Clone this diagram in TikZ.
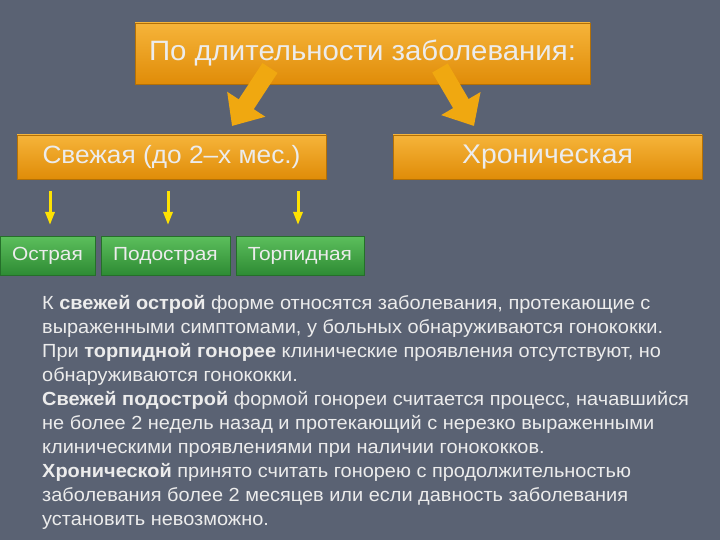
\documentclass[tikz,border=0pt]{standalone}
\usepackage{fontspec}
\setmainfont{Liberation Sans}
\newfontfamily\wide[FakeStretch=1.05]{Liberation Sans}
\newfontfamily\wider[FakeStretch=1.1]{Liberation Sans}
\usetikzlibrary{arrows.meta}
\definecolor{bg}{HTML}{5A6273}
\definecolor{txt}{HTML}{ECECEC}
\definecolor{orA}{HTML}{F6B43A}
\definecolor{orB}{HTML}{E08C08}
\definecolor{grA}{HTML}{5CBF5C}
\definecolor{grB}{HTML}{2E8B34}
\definecolor{arr}{HTML}{F0A810}
\tikzset{
 obox/.style={draw=orB!80!black,line width=0.6pt,top color=orA,bottom color=orB,inner sep=0pt,text=txt},
 gbox/.style={draw=grB!80!black,line width=0.6pt,top color=grA,bottom color=grB,inner sep=0pt,text=txt,font=\wider\fontsize{19}{22}\selectfont},
 bigarr/.style={line width=18pt,draw=arr,-{Triangle[width=44pt,length=26pt]}},
 smarr/.style={draw=yellow!85!orange,line width=3pt,-{Triangle[width=9pt,length=13pt]}},
 line/.style={anchor=base west,inner sep=0pt,text=txt,font=\fontsize{19}{22}\selectfont,xscale=1.05}
}
\begin{document}
\begin{tikzpicture}[x=1pt,y=-1pt]
\fill[bg] (0,0) rectangle (720,540);
\useasboundingbox (0,0) rectangle (720,540);
\node[obox,minimum width=455pt,minimum height=61pt,font=\wide\fontsize{28}{30}\selectfont] (top) at (362.5,53.5) {По длительности заболевания:};
\node[obox,minimum width=309pt,minimum height=44pt,font=\wide\fontsize{25}{28}\selectfont] (fresh) at (171.5,157) {Свежая (до 2–х мес.)};
\node[obox,minimum width=309pt,minimum height=44pt,font=\wide\fontsize{27}{30}\selectfont] (chron) at (547.5,157) {Хроническая};
\node[gbox,minimum width=95pt,minimum height=39pt] (g1) at (47.5,255.5) {Острая};
\node[gbox,minimum width=129pt,minimum height=39pt] (g2) at (165.5,255.5) {Подострая};
\node[gbox,minimum width=128pt,minimum height=39pt] (g3) at (300,255.5) {Торпидная};
\coordinate (la) at (270,68); \coordinate (lb) at (232,126);
\coordinate (ra) at (440,68); \coordinate (rb) at (474,126);
\draw[bigarr] (la) -- (lb);
\draw[bigarr] (ra) -- (rb);
\foreach \x/\n in {50/g1,168/g2,298/g3}{
 \coordinate (s\n) at (\x,191);
 \draw[smarr] (s\n) -- (\x,225);
}
\foreach \i/\t in {0/{К \textbf{свежей острой} форме относятся заболевания, протекающие с},
 1/{выраженными симптомами, у больных обнаруживаются гонококки.},
 2/{При \textbf{торпидной гонорее} клинические проявления отсутствуют, но},
 3/{обнаруживаются гонококки.},
 4/{\textbf{Свежей подострой} формой гонореи считается процесс, начавшийся},
 5/{не более 2 недель назад и протекающий с нерезко выраженными},
 6/{клиническими проявлениями при наличии гонококков.},
 7/{\textbf{Хронической} принято считать гонорею с продолжительностью},
 8/{заболевания более 2 месяцев или если давность заболевания},
 9/{установить невозможно.}}
 \node[line] (t\i) at (42,{309+24*\i}) {\t};
\end{tikzpicture}
\end{document}
